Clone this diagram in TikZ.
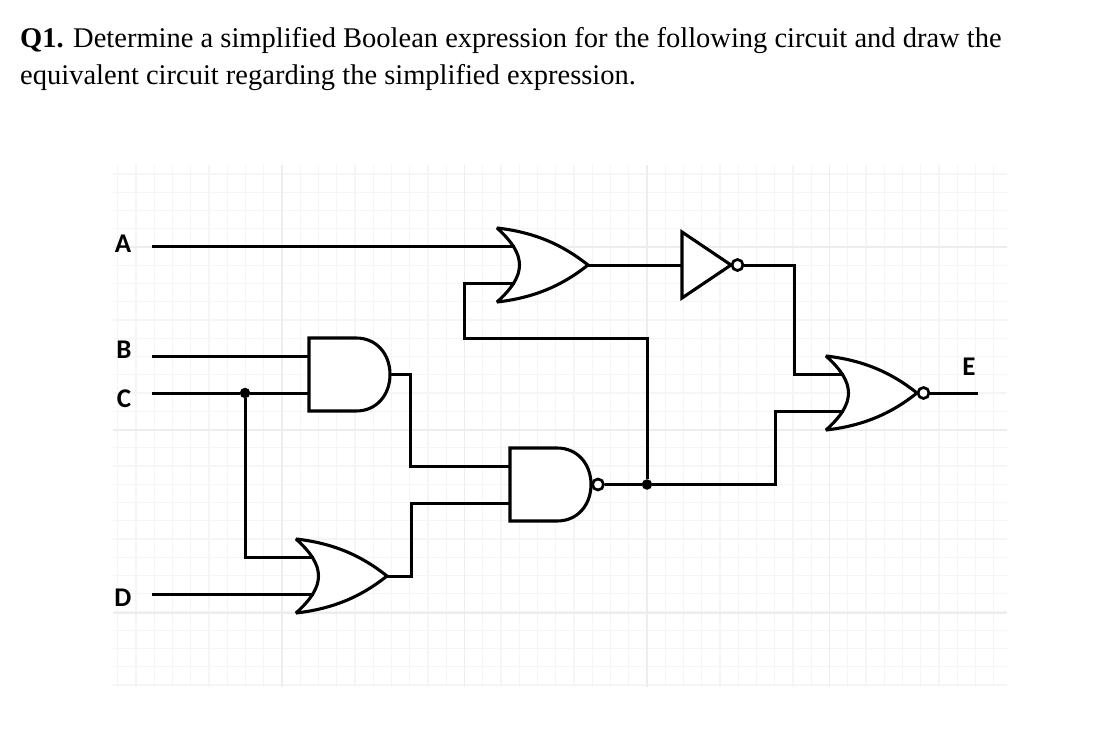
\documentclass[tikz,border=0pt]{standalone}
\usepackage{fontspec}
\setmainfont{Liberation Serif}
\newfontfamily\labelfont{Carlito}
\tikzset{
  wire/.style={line width=3pt,black,line join=miter},
  heavywire/.style={line width=3.4pt,black},
  gateline/.style={line width=3.1pt,black,fill=white,line join=miter,miter limit=3},
  bubble/.style={circle,draw=black,fill=white,line width=2.7pt,inner sep=0pt,minimum size=11pt},
  dotnode/.style={circle,fill=black,inner sep=0pt,minimum size=10.5pt},
  gridminor/.style={line width=1.4pt,black!4},
  gridmajor/.style={line width=1.7pt,black!7},
  siglabel/.style={font=\labelfont\bfseries\fontsize{27}{29}\selectfont,inner sep=0pt,anchor=center},
  titletext/.style={font=\fontsize{28.5}{34}\selectfont,inner sep=0pt,anchor=base west}
}
\newcommand{\orshape}[3]{%
  \begin{scope}[shift={(#2,#3)}]
    \draw[gateline] (0,-37) .. controls (45,-32) and (72,-15) .. (91,0)
      .. controls (72,15) and (45,32) .. (0,37)
      .. controls (30,10) and (30,-10) .. (0,-37) -- cycle;
    \coordinate (#1in1) at (18,-18.5);
    \coordinate (#1in2) at (18,18.5);
    \coordinate (#1out) at (91,0);
  \end{scope}}
\newcommand{\andshape}[3]{%
  \begin{scope}[shift={(#2,#3)}]
    \draw[gateline] (0,-36.5) -- (47,-36.5) .. controls (68,-36.5) and (81,-20) .. (81,0)
      .. controls (81,20) and (68,36.5) .. (47,36.5) -- (0,36.5) -- cycle;
    \coordinate (#1in1) at (0,-18.5);
    \coordinate (#1in2) at (0,18.5);
    \coordinate (#1out) at (81,0);
  \end{scope}}
\begin{document}
\begin{tikzpicture}[x=1pt,y=-1pt]
\useasboundingbox (0,0) rectangle (1104,747);
% grid
\foreach \i in {0,...,48} {
  \draw[gridminor] ({117.75+\i*18.25},165) -- ({117.75+\i*18.25},687);
}
\foreach \j in {0,...,28} {
  \draw[gridminor] (113,{174+\j*18.25}) -- (1007,{174+\j*18.25});
}
\foreach \xx in {282,464.5,647,829.5} { \draw[gridmajor] (\xx,165) -- (\xx,687); }
\foreach \yy in {247,430,612.7} { \draw[gridmajor] (113,\yy) -- (1007,\yy); }
% title
\node[titletext] (title1) at (20,47) {\textbf{Q1.} Determine a simplified Boolean expression for the following circuit and draw the};
\node[titletext] (title2) at (20,84) {equivalent circuit regarding the simplified expression.};
% labels
\node[siglabel] (labA) at (123,244) {A};
\node[siglabel] (labB) at (124,350) {B};
\node[siglabel] (labC) at (124,399) {C};
\node[siglabel] (labD) at (123,598) {D};
\node[siglabel] (labE) at (969,367) {E};
% gates
\orshape{orA}{497}{265}
\andshape{andB}{309}{374.5}
\andshape{nandN}{510}{484.5}
\orshape{orD}{296}{576}
\orshape{orE}{826}{393}
\draw[gateline] (682,232) -- (731,265) -- (682,298) -- cycle;
\coordinate (invIn) at (682,265);
\node[bubble] (invB) at (737.5,265) {};
\node[bubble] (nandB) at (598,484.5) {};
\node[bubble] (orEB) at (923.5,393) {};
\node[dotnode] (j1) at (245,393) {};
\node[dotnode] (j2) at (647,484.5) {};
% free ends
\coordinate (inA) at (152,0 |- orAin1);
\coordinate (inB) at (152,0 |- andBin1);
\coordinate (inC) at (152,0 |- j1);
\coordinate (inD) at (152,0 |- orDin2);
\coordinate (outE) at (978,393);
% wires
\draw[heavywire] (inA) -- (orAin1);
\draw[wire] (inB) -- (andBin1);
\draw[wire] (inC) -- (j1) -- (andBin2);
\draw[wire] (inD) -- (orDin2);
\draw[wire] (j1) |- (orDin1);
\draw[wire] (andBout) -- (410,374.5) |- (nandNin1);
\draw[wire] (orDout) -- (411,576) |- (nandNin2);
\draw[wire] (nandB) -- (j2);
\draw[wire] (j2) -- (775,484.5) |- (orEin2);
\draw[wire] (j2) |- (464.5,338) |- (orAin2);
\draw[wire] (orAout) -- (invIn);
\draw[wire] (invB) -| (794,340) |- (orEin1);
\draw[wire] (orEB) -- (outE);
\end{tikzpicture}
\end{document}
